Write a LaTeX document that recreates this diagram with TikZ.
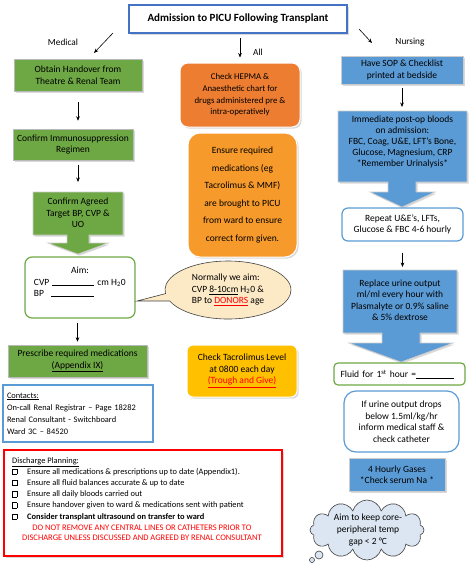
\documentclass[tikz,border=0pt]{standalone}
\usepackage{fontspec}
\setmainfont{Carlito}
\usetikzlibrary{shapes.symbols,shapes.callouts,shapes.geometric,shadows,arrows.meta,calc}
\definecolor{tgreen}{HTML}{6EA844}
\definecolor{torange}{HTML}{ED7D31}
\definecolor{torangeb}{HTML}{F79A2C}
\definecolor{tgold}{HTML}{FFC000}
\definecolor{tblue}{HTML}{5B9BD5}
\definecolor{ttitle}{HTML}{4472C4}
\definecolor{ttan}{HTML}{FCE9C6}
\definecolor{tcloud}{HTML}{DCE6F2}
\newcommand{\ckbox}{{\setlength{\fboxsep}{0pt}\setlength{\fboxrule}{0.4pt}\fbox{\rule{0pt}{5pt}\rule{4pt}{0pt}}}}
\begin{document}
\begin{tikzpicture}[x=1pt,y=-1pt,
 base/.style={align=center, inner sep=1pt, font=\fontsize{9.5}{11.5}\selectfont},
 shad/.style={drop shadow={shadow xshift=1.6pt,shadow yshift=-1.6pt,opacity=0.3}},
 gbox/.style={base, rectangle, fill=tgreen, draw=gray!55, line width=0.5pt, shad},
 bbox/.style={base, rectangle, fill=tblue, draw=gray!40, line width=0.6pt, shad},
 obox/.style={base, rectangle, rounded corners=8pt, draw=white, line width=1pt, shad},
 wbox/.style={base, rectangle, rounded corners=7pt, fill=white, line width=1.2pt},
 barrow/.style={draw=gray!40, line width=0.6pt, shad, line join=miter},
 arr/.style={-{Stealth[length=4.5pt,width=3.6pt]}, line width=0.6pt},
 lbl/.style={font=\fontsize{9.3}{11}\selectfont, inner sep=0pt}]
\useasboundingbox (0,0) rectangle (474,563);

% title and branches
\node[base, draw=ttitle, line width=2pt, fill=white, minimum width=218pt, minimum height=28pt, shad, font=\fontsize{11}{12}\selectfont\bfseries] (title) at (238,19) {Admission to PICU Following Transplant};
\node[lbl] (medical) at (63,42) {Medical};
\node[lbl] (all) at (258,52) {All};
\node[lbl] (nursing) at (410,42) {Nursing};
\coordinate (mL0) at (113,33); \coordinate (mL1) at (94,53);
\coordinate (nR0) at (359,29); \coordinate (nR1) at (372,43);
\draw[arr] (mL0) -- (mL1);
\draw[arr] (nR0) -- (nR1);

% left column
\node[gbox, minimum width=128pt, minimum height=32pt] (handover) at (78,75) {Obtain Handover from\\Theatre \& Renal Team};
\node[gbox, minimum width=120pt, minimum height=31pt] (immuno) at (73,144.5) {Confirm Immunosuppression\\Regimen};
\filldraw[barrow, fill=tgreen] (33,192) -- (123,192) -- (123,235) -- (89,235) -- (89,243) -- (108,243) -- (78,254) -- (48,243) -- (67,243) -- (67,235) -- (33,235) -- cycle;
\node[base] (agreed) at (78,213) {Confirm Agreed\\Target BP, CVP \&\\UO};
\node[wbox, draw=tgreen, minimum width=110pt, minimum height=61pt] (aim) at (80,287.5) {};
\node[base] (aimtext) at (80,282) {Aim:\\\makebox[92pt][l]{CVP\hspace{3pt}\rule{42pt}{0.4pt}\hspace{3pt}cm H\textsubscript{2}0}\\\makebox[92pt][l]{BP\hspace{7pt}\rule{43pt}{0.4pt}}};
\node[gbox, minimum width=139pt, minimum height=32pt] (prescribe) at (77.5,361) {Prescribe required medications\\\underline{(Appendix IX)}};
\node[base, rectangle, draw=tblue, line width=1.2pt, fill=white, minimum width=150pt, minimum height=57pt, align=left, text width=142pt, font=\fontsize{8.4}{12}\selectfont] (contacts) at (78,413.5) {\underline{Contacts:}\\On-call Renal Registrar -- Page 18282\\Renal Consultant - Switchboard\\Ward 3C -- 84520};

\draw[arr, shorten <=11pt, shorten >=8pt] (handover.south) -- (handover.south |- immuno.north);
\draw[arr, shorten <=5pt, shorten >=10pt] (handover.south |- immuno.south) -- (agreed.center |- 0,192);
\draw[arr, shorten <=4pt, shorten >=3pt] (aim.south -| prescribe.north) -- (prescribe.north);

% centre column
\node[obox, fill=torange, minimum width=120pt, minimum height=64pt, font=\fontsize{8.8}{11.7}\selectfont] (hepma) at (240,95) {Check HEPMA \&\\Anaesthetic chart for\\drugs administered pre \&\\intra-operatively};
\draw[arr, shorten <=4pt, shorten >=5pt] (title.south -| hepma.north) -- (hepma.north);
\node[obox, fill=torangeb, rounded corners=12pt, minimum width=109pt, minimum height=124pt, font=\fontsize{9.5}{17.6}\selectfont] (ensure) at (242.5,195) {Ensure required\\medications (eg\\Tacrolimus \& MMF)\\are brought to PICU\\from ward to ensure\\correct form given.};
\node[ellipse callout, draw=gray!50!black, fill=ttan, line width=0.6pt, minimum width=126pt, minimum height=58pt, callout absolute pointer={(137,301)}, align=left, inner sep=1pt, font=\fontsize{9.5}{11.5}\selectfont] (normal) at (228,290) {Normally we aim:\\CVP \underline{8-10cm} H\textsubscript{2}0 \&\\BP to \textcolor{red}{\underline{DONORS}} age};
\node[obox, fill=tgold, rounded corners=6pt, minimum width=110pt, minimum height=52pt] (tacro) at (242,371) {Check Tacrolimus Level\\at 0800 each day\\\textcolor{red}{\underline{(Trough and Give)}}};

% right column
\node[bbox, minimum width=122pt, minimum height=28pt] (sop) at (402,70) {Have SOP \& Checklist\\printed at bedside};
\filldraw[barrow, fill=tblue] (338,111) -- (467,111) -- (467,182) -- (416,182) -- (416,192) -- (435,192) -- (402,207) -- (370,192) -- (388,192) -- (388,182) -- (338,182) -- cycle;
\node[base, font=\fontsize{9.5}{11}\selectfont] (immediate) at (402.5,142) {Immediate post-op bloods\\on admission:\\FBC, Coag, U\&E, LFT's Bone,\\Glucose, Magnesium, CRP\\*Remember Urinalysis*};
\draw[arr, shorten <=4pt, shorten >=4pt] (sop.south) -- (sop.south |- 0,111);
\node[wbox, draw=tblue, rounded corners=6pt, minimum width=121pt, minimum height=33pt] (repeat) at (402.5,224.5) {Repeat U\&E's, LFTs,\\Glucose \& FBC 4-6 hourly};
\filldraw[barrow, fill=tblue] (343,270) -- (457,270) -- (457,333) -- (420,333) -- (420,343) -- (453,343) -- (401,362) -- (349,343) -- (382,343) -- (382,333) -- (343,333) -- cycle;
\node[base] (replace) at (400,300) {Replace urine output\\ml/ml every hour with\\Plasmalyte or 0.9\% saline\\\& 5\% dextrose};
\draw[arr, shorten <=11pt, shorten >=3pt] (repeat.south) -- (repeat.south |- 0,270);
\node[wbox, draw=tgreen, rounded corners=4pt, minimum width=131pt, minimum height=22pt, align=left, text width=118pt] (fluid) at (399.5,374) {Fluid for 1\textsuperscript{st} hour =\rule{38pt}{0.4pt}};
\node[wbox, draw=tblue, rounded corners=12pt, minimum width=115pt, minimum height=61pt] (ifurine) at (401.5,421.5) {If urine output drops\\below 1.5ml/kg/hr\\inform medical staff \&\\check catheter};
\node[bbox, minimum width=96pt, minimum height=33pt] (gases) at (397,474.5) {4 Hourly Gases\\*Check serum Na *};
\node[cloud, cloud puffs=12, aspect=1.9, draw=gray!50!black, fill=tcloud, line width=0.6pt, minimum width=114pt, minimum height=60pt, inner sep=0pt] (cloud) at (367,530) {};
\node[base, font=\fontsize{9.5}{12}\selectfont] (cloudtext) at (368,530) {Aim to keep core-\\peripheral temp\\gap < 2 °C};
\node[circle, draw=gray!50!black, fill=tcloud, line width=0.6pt, minimum size=8pt, inner sep=0pt] (bub1) at (319,555) {};
\node[circle, draw=gray!50!black, fill=tcloud, line width=0.6pt, minimum size=5pt, inner sep=0pt] (bub2) at (312,560) {};

% discharge
\node[rectangle, draw=red, line width=2.5pt, fill=white, minimum width=278pt, minimum height=106pt, shad] (dis) at (143,503) {};
\node[anchor=north west, align=left, inner sep=0pt, font=\fontsize{8.4}{11.2}\selectfont] (distext) at (12,457) {\underline{Discharge Planning:}\\
\makebox[15pt][l]{\ckbox}Ensure all medications \& prescriptions up to date (Appendix1).\\
\makebox[15pt][l]{\ckbox}Ensure all fluid balances accurate \& up to date\\
\makebox[15pt][l]{\ckbox}Ensure all daily bloods carried out\\
\makebox[15pt][l]{\ckbox}Ensure handover given to ward \& medications sent with patient\\
\makebox[15pt][l]{\ckbox}\textbf{Consider transplant ultrasound on transfer to ward}};
\node[align=center, text=red, inner sep=0pt, font=\fontsize{8.5}{10.5}\selectfont] (warn) at (142,533) {DO NOT REMOVE ANY CENTRAL LINES OR CATHETERS PRIOR TO\\DISCHARGE UNLESS DISCUSSED AND AGREED BY RENAL CONSULTANT};
\end{tikzpicture}
\end{document}
